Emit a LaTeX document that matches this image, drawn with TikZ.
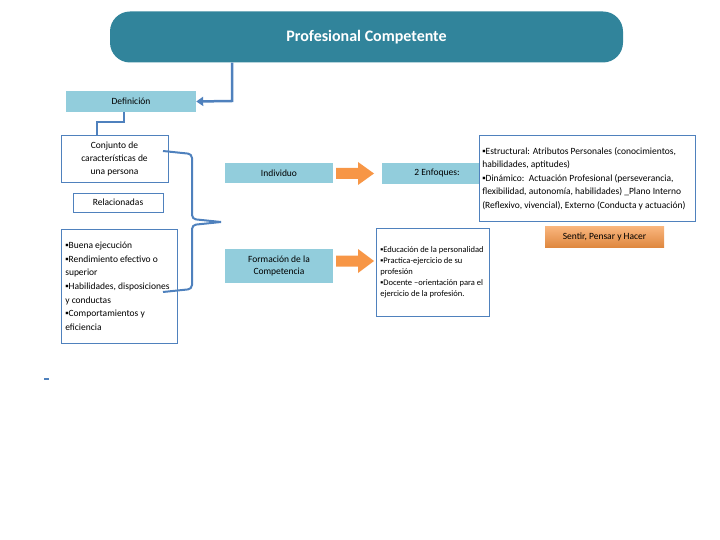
\documentclass[tikz,border=0pt]{standalone}
\usepackage{fontspec}
\setmainfont{Carlito}
\usetikzlibrary{arrows.meta}
\definecolor{teal1}{HTML}{31849B}
\definecolor{lb}{HTML}{92CDDC}
\definecolor{bl}{HTML}{4F81BD}
\definecolor{or}{HTML}{F79646}
\begin{document}
\begin{tikzpicture}[x=1pt,y=-1pt,
 lbox/.style={fill=lb,draw=none,align=center,font=\fontsize{9.5}{12}\selectfont},
 wbox/.style={fill=white,draw=bl,line width=0.6pt,font=\fontsize{9.5}{12}\selectfont},
 conn/.style={draw=bl,line width=2.5pt},
 oarr/.style={fill=or,draw=none}]
\useasboundingbox (0,0) rectangle (720,540);
\node[fill=teal1,rounded corners=20pt,minimum width=513pt,minimum height=51pt,text=white,font=\fontsize{16}{18}\selectfont\bfseries] (tit) at (366.5,37) {Profesional Competente};
\node[lbox,minimum width=130pt,minimum height=21pt] (def) at (131,101.5) {Definición};
\node[wbox,minimum width=107pt,minimum height=47pt,align=center,inner sep=1pt,font=\fontsize{9.5}{13}\selectfont] (conj) at (114.5,158.5) {Conjunto de\\características de\\una persona};
\node[wbox,minimum width=90pt,minimum height=19pt] (rel) at (118,202.5) {Relacionadas};
\node[wbox,text width=108pt,minimum height=114pt,align=flush left,inner sep=4pt,anchor=north west,font=\fontsize{9.5}{13.7}\selectfont] (bul) at (61,229) {▪Buena ejecución\\▪Rendimiento efectivo o superior\\▪Habilidades, disposiciones y conductas\\▪Comportamientos y eficiencia};
\node[lbox,minimum width=108pt,minimum height=20pt] (ind) at (279,173) {Individuo};
\node[lbox,minimum width=108pt,minimum height=34pt] (for) at (279,266) {Formación de la\\Competencia};
\node[lbox,minimum width=110pt,minimum height=21pt] (enf) at (437,173.5) {2 Enfoques:};
\node[wbox,text width=210pt,minimum height=86pt,align=flush left,inner sep=3pt,anchor=north west,font=\fontsize{9.5}{13.5}\selectfont] (est) at (479,135) {▪Estructural: Atributos Personales (conocimientos, habilidades, aptitudes)\\▪Dinámico:\ \ Actuación Profesional (perseverancia, flexibilidad, autonomía, habilidades) \_Plano Interno (Reflexivo, vivencial), Externo (Conducta y actuación)};
\node[top color=or!70,bottom color=or!90!black,minimum width=119pt,minimum height=21pt,font=\fontsize{9.5}{10}\selectfont] (sen) at (604.5,237) {Sentir, Pensar y Hacer};
\node[wbox,text width=105pt,minimum height=88pt,align=flush left,inner sep=4pt,anchor=north west,font=\fontsize{8.5}{11}\selectfont] (edu) at (376,228) {▪Educación de la personalidad\\▪Practica-ejercicio de su profesión\\▪Docente –orientación para el ejercicio de la profesión.};
\fill[oarr] (336,168) -- (358,168) -- (358,162) -- (374,173.5) -- (358,185) -- (358,179) -- (336,179) -- cycle;
\fill[oarr] (336,255.5) -- (358,255.5) -- (358,249) -- (374,261) -- (358,273) -- (358,266.5) -- (336,266.5) -- cycle;
\draw[conn,-{Triangle[length=7pt,width=9pt]}] (tit.south -| 232,0) -- (232,101) -- (def.east);
\draw[conn] (def.south -| 124,0) -- (124,122) -- (97,122) -- (97,135);
\coordinate (b1) at (163,151);
\coordinate (b2) at (163,292);
\coordinate (bt) at (221,222);
\draw[conn,line width=2pt,rounded corners=4pt] (b1) -- (192,154) -- (192,219) -- (bt);
\draw[conn,line width=2pt,rounded corners=4pt] (bt) -- (192,225) -- (192,289) -- (b2);
\node[fill=bl,minimum width=5pt,minimum height=2pt,inner sep=0pt] (dash) at (46,379) {};
\end{tikzpicture}
\end{document}
